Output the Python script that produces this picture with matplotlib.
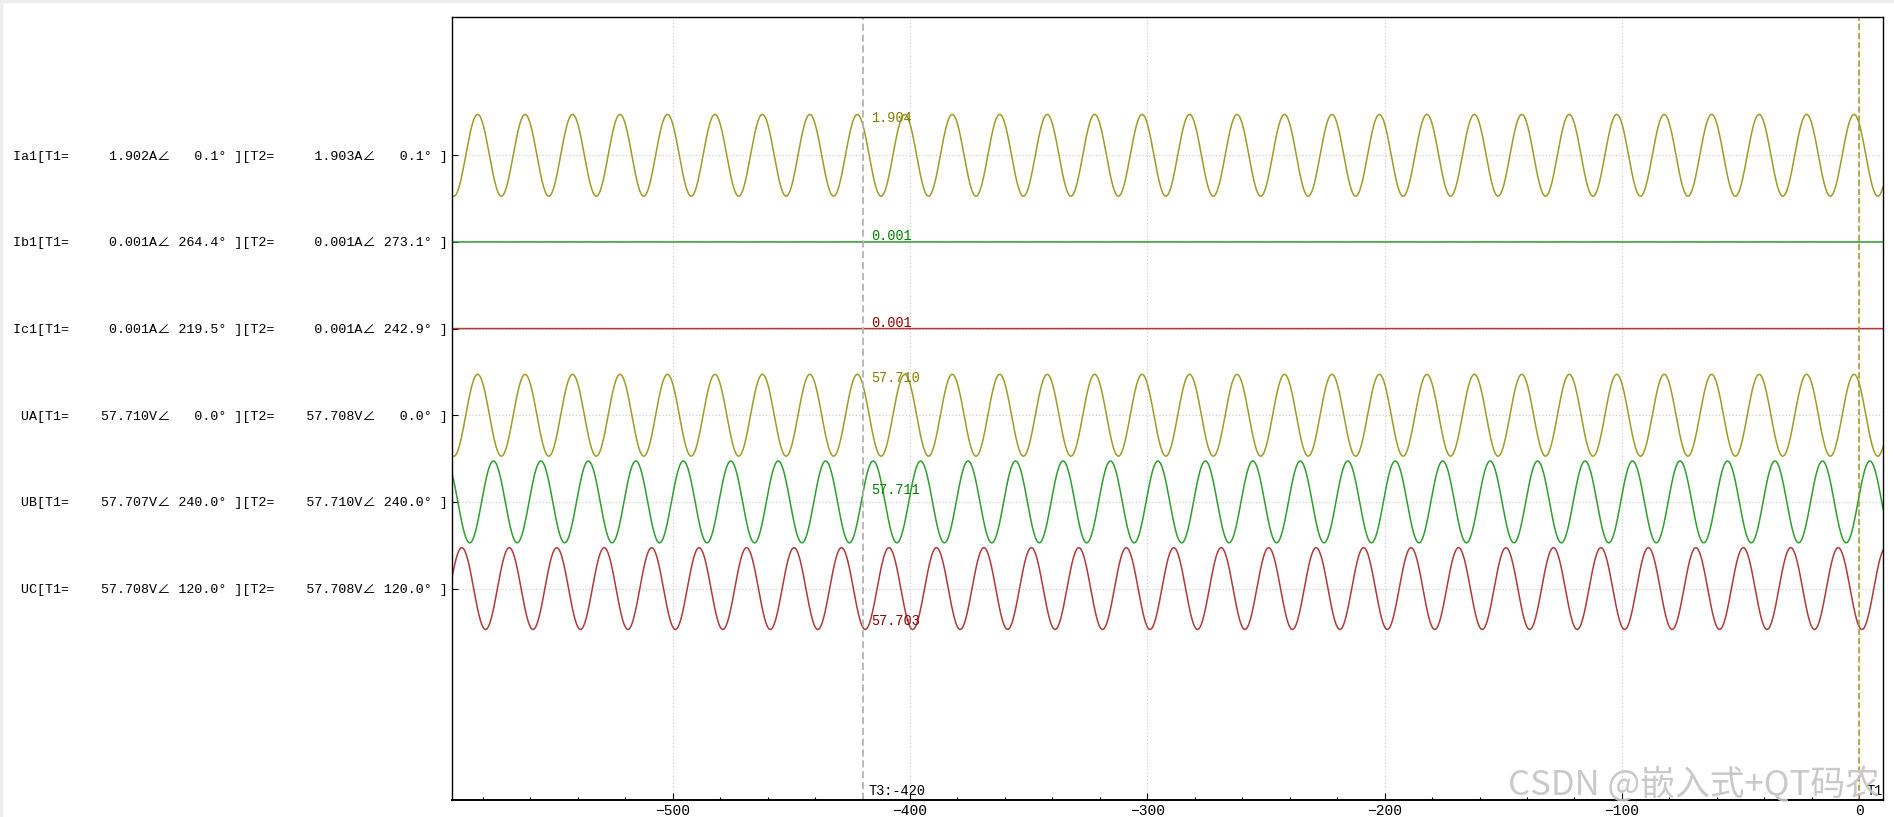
import numpy as np
import matplotlib
matplotlib.use("Agg")
import matplotlib.pyplot as plt
from matplotlib.ticker import MultipleLocator, FixedLocator
from matplotlib.patches import Rectangle

# channel data
names = ["Ia1", "Ib1", "Ic1", "UA", "UB", "UC"]
units = ["A", "A", "A", "V", "V", "V"]
t1_mag = [1.902, 0.001, 0.001, 57.710, 57.707, 57.708]
t1_ang = [0.1, 264.4, 219.5, 0.0, 240.0, 120.0]
t2_mag = [1.903, 0.001, 0.001, 57.708, 57.710, 57.708]
t2_ang = [0.1, 273.1, 242.9, 0.0, 240.0, 120.0]
t3_text = ["1.904", "0.001", "0.001", "57.710", "57.711", "57.703"]

line_colors = ["#9c9c28", "#2e9e2e", "#b03a3a", "#9c9c28", "#2e9e2e", "#b03a3a"]
text_colors = ["#808000", "#008000", "#8b0000", "#808000", "#008000", "#8b0000"]

period_ms = 20.0       # 50 Hz
ref_peak_ms = -2.2     # time of UA peak near T1
t3_pos = -420
t1_pos = 0
x_min, x_max = -593, 10

mono = ["Liberation Mono", "Noto Sans CJK SC"]

fig = plt.figure(figsize=(18.94, 8.17), dpi=100)
ax = fig.add_axes([452 / 1894, 17 / 817, (1883 - 452) / 1894, (800 - 17) / 817])

# thin grey frame of the window
fig.patches.append(Rectangle((0, 1 - 2 / 817), 1, 2 / 817, transform=fig.transFigure,
                             color="#eeeeee", zorder=0))
fig.patches.append(Rectangle((0, 0), 2 / 1894, 1, transform=fig.transFigure,
                             color="#eeeeee", zorder=0))

x = np.linspace(x_min, x_max, 6000)
rows = -np.arange(len(names), dtype=float)
amp = 0.472

cur_max = max(m for m, u in zip(t1_mag, units) if u == "A")
volt_max = max(m for m, u in zip(t1_mag, units) if u == "V")

labels = []
for i, name in enumerate(names):
    full = cur_max if units[i] == "A" else volt_max
    t_pk = ref_peak_ms + (360 - t1_ang[i]) / 360 * period_ms
    y = rows[i] + amp * (t1_mag[i] / full) * np.cos(2 * np.pi * (x - t_pk) / period_ms)
    ax.plot(x, y, color=line_colors[i], lw=1.1)
    y3 = rows[i] + amp * (t1_mag[i] / full) * np.cos(2 * np.pi * (t3_pos - t_pk) / period_ms)
    ax.annotate(t3_text[i], (t3_pos, y3), xytext=(6, 4), textcoords="offset points",
                ha="left", va="center", color=text_colors[i], fontsize=9.8, family=mono)
    labels.append("%s[T1=%10.3f%s∠%6.1f° ][T2=%10.3f%s∠%6.1f° ]"
                  % (name, t1_mag[i], units[i], t1_ang[i], t2_mag[i], units[i], t2_ang[i]))

# cursors
ax.axvline(t3_pos, color="#b4b4b4", ls=(0, (4, 2)), lw=1.3)
ax.axvline(t1_pos, color="#9a9a20", ls=(0, (4, 2)), lw=1.1)
ax.text(t3_pos + 2.5, -7.42, "T3:%d" % t3_pos, fontsize=9.8, family=mono, va="bottom", ha="left")
ax.text(t1_pos + 3.0, -7.42, "T1", fontsize=9.8, family=mono, va="bottom", ha="left",
        clip_on=True)

ax.set_xlim(x_min, x_max)
ax.set_ylim(-7.44, 1.596)

ax.yaxis.set_major_locator(FixedLocator(rows))
ax.set_yticklabels(labels, family=mono, fontsize=9.6)
ax.xaxis.set_major_locator(MultipleLocator(100))
ax.xaxis.set_minor_locator(MultipleLocator(20))
for lab in ax.get_xticklabels():
    lab.set_family(mono)
    lab.set_fontsize(10.5)

ax.tick_params(axis="y", direction="in", length=4, width=0.8, pad=3)
ax.tick_params(axis="x", which="major", direction="in", length=5, width=0.8, pad=3)
ax.tick_params(axis="x", which="minor", direction="in", length=2.5, width=0.8)
ax.grid(True, which="major", color="#c8c8c8", ls=(0, (1, 2)), lw=0.8)
for s in ax.spines.values():
    s.set_linewidth(1.0)
ax.spines["bottom"].set_linewidth(1.4)

# watermark
fig.text(1508 / 1894, (817 - 785) / 817, "CSDN @嵌入式+QT码农", fontsize=25,
         family=["Noto Sans CJK SC", "DejaVu Sans"], color="#c4c4c4", alpha=0.9,
         va="center", ha="left", zorder=10)

fig.savefig("out.png", dpi=100)
